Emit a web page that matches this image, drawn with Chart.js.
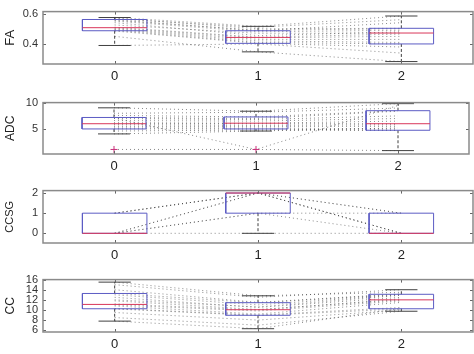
<!DOCTYPE html>
<html><head><meta charset="utf-8">
<script src="https://cdn.jsdelivr.net/npm/chart.js@4.4.1/dist/chart.umd.min.js"></script>
<style>
html,body{margin:0;padding:0;background:#fff;width:474px;height:354px;overflow:hidden;position:relative}
canvas{position:absolute;left:0}
</style></head><body>
<canvas id="c0"></canvas><canvas id="c1"></canvas><canvas id="c2"></canvas><canvas id="c3"></canvas>
<script>
// ---------- data ----------
const groups = [0, 1, 2];
const xTickLabels = ['0', '1', '2'];

// FA
const faTicks = [0.4, 0.6];
const faRange = [0.268, 0.613];
const faMin = [0.390, 0.348, 0.284];
const faQ1  = [0.487, 0.404, 0.400];
const faMed = [0.507, 0.443, 0.472];
const faQ3  = [0.561, 0.487, 0.503];
const faMax = [0.574, 0.516, 0.584];
const faOut = [[], [], []];
const faG0 = [0.575, 0.570, 0.565, 0.560, 0.555, 0.550, 0.540, 0.525, 0.510, 0.505, 0.500, 0.495, 0.490, 0.485, 0.450, 0.390];
const faG1 = [0.516, 0.500, 0.510, 0.487, 0.490, 0.480, 0.455, 0.470, 0.445, 0.440, 0.430, 0.420, 0.410, 0.404, 0.348, 0.400];
const faG2 = [0.584, 0.503, 0.560, 0.540, 0.500, 0.490, 0.480, 0.472, 0.465, 0.450, 0.430, 0.410, 0.400, 0.380, 0.284, 0.340];

// ADC
const adcTicks = [5, 10];
const adcRange = [0.2, 10.05];
const adcMin = [4.05, 4.6, 0.85];
const adcQ1  = [5.0, 5.0, 4.75];
const adcMed = [6.0, 6.1, 6.0];
const adcQ3  = [7.2, 7.3, 8.5];
const adcMax = [9.05, 8.4, 9.85];
const adcOut = [[1.07], [1.07], []];
const adcG0 = [9.05, 8.0, 7.6, 7.2, 7.0, 6.6, 6.2, 6.0, 5.8, 5.5, 5.2, 5.0, 4.6, 4.05, 1.07, 7.1];
const adcG1 = [8.4, 8.2, 7.3, 7.0, 6.8, 6.5, 6.1, 6.0, 5.7, 5.5, 5.2, 5.0, 4.8, 4.6, 1.07, 1.07];
const adcG2 = [9.85, 9.0, 8.5, 8.4, 7.5, 7.0, 6.5, 6.0, 5.8, 5.5, 5.0, 4.75, 4.7, 5.2, 0.85, 9.5];

// CCSG
const ccsgTicks = [0, 1, 2];
const ccsgRange = [-0.48, 2.12];
const ccsgMin = [0, 0, 0];
const ccsgQ1  = [0, 1, 0];
const ccsgMed = [0, 2, 0];
const ccsgQ3  = [1, 2, 1];
const ccsgMax = [1, 2, 1];
const ccsgOut = [[], [], []];
const ccsgG0 = [1, 1, 0, 0, 0, 0, 1, 0];
const ccsgG1 = [2, 2, 2, 1, 1, 0, 2, 2];
const ccsgG2 = [1, 0, 0, 1, 0, 0, 1, 0];

// CC
const ccTicks = [6, 8, 10, 12, 14, 16];
const ccRange = [5.65, 16.0];
const ccMin = [7.8, 6.3, 9.75];
const ccQ1  = [10.24, 8.95, 10.24];
const ccMed = [11.1, 10.05, 12.0];
const ccQ3  = [13.26, 11.44, 13.1];
const ccMax = [15.5, 12.8, 14.0];
const ccOut = [[], [], []];
const ccG0 = [15.5, 15.0, 14.0, 13.3, 13.0, 12.5, 11.8, 11.2, 11.0, 10.8, 10.3, 10.2, 9.5, 8.5, 7.8, 12.0];
const ccG1 = [12.8, 12.5, 11.5, 11.4, 11.0, 10.5, 10.1, 10.0, 9.8, 9.2, 9.0, 8.9, 8.0, 7.0, 6.3, 10.6];
const ccG2 = [13.5, 14.0, 13.2, 13.1, 13.0, 12.5, 12.0, 12.2, 11.8, 11.5, 10.5, 10.2, 10.0, 9.75, 10.3, 12.9];

// ---------- styling / layout ----------
const BOX_HALF = 0.225, CAP_HALF = 0.1125;
const BOX_COLOR = '#5c5cc4', MED_COLOR = '#d9365a', WHISK_COLOR = '#404040';
const OUT_COLOR = '#c8307a', SUBJ_COLOR = 'rgba(60,60,60,0.6)';
const FONT = 'Liberation Sans, Arial, Helvetica, sans-serif';

const panels = [
  {id:'c0', title:'FA',   tsize:13, top:5,   bottom:64,  ticks:faTicks,   range:faRange,   st:[faMin,faQ1,faMed,faQ3,faMax],       out:faOut,   subj:[faG0,faG1,faG2]},
  {id:'c1', title:'ADC',  tsize:12, top:99,  bottom:154, ticks:adcTicks,  range:adcRange,  st:[adcMin,adcQ1,adcMed,adcQ3,adcMax],  out:adcOut,  subj:[adcG0,adcG1,adcG2]},
  {id:'c2', title:'CCSG', tsize:11, top:187, bottom:243, ticks:ccsgTicks, range:ccsgRange, st:[ccsgMin,ccsgQ1,ccsgMed,ccsgQ3,ccsgMax], out:ccsgOut, subj:[ccsgG0,ccsgG1,ccsgG2]},
  {id:'c3', title:'CC',   tsize:12, top:276, bottom:332, ticks:ccTicks,   range:ccRange,   st:[ccMin,ccQ1,ccMed,ccQ3,ccMax],       out:ccOut,   subj:[ccG0,ccG1,ccG2]}
];

const framePlugin = {
  id: 'frame',
  afterDatasetsDraw(chart) {
    const {ctx, chartArea: a, scales} = chart;
    ctx.save();
    ctx.strokeStyle = '#666'; ctx.lineWidth = 1;
    ctx.beginPath();
    scales.y.ticks.forEach(t => {
      const p = Math.round(scales.y.getPixelForValue(t.value)) + 0.5;
      ctx.moveTo(a.left, p); ctx.lineTo(a.left + 3, p);
      ctx.moveTo(a.right, p); ctx.lineTo(a.right - 3, p);
    });
    scales.x.ticks.forEach(t => {
      const p = Math.round(scales.x.getPixelForValue(t.value)) + 0.5;
      ctx.moveTo(p, a.bottom); ctx.lineTo(p, a.bottom - 3);
      ctx.moveTo(p, a.top); ctx.lineTo(p, a.top + 3);
    });
    ctx.stroke();
    ctx.strokeStyle = '#8a8a8a'; ctx.lineWidth = 1.5;
    ctx.strokeRect(a.left, a.top, a.right - a.left, a.bottom - a.top);
    ctx.restore();
  }
};

function seg(points, color, width, dash, order) {
  return {data: points, showLine: true, borderColor: color, borderWidth: width,
          borderDash: dash || [], pointRadius: 0, fill: false, tension: 0, order: order};
}

function buildDatasets(p) {
  const ds = [];
  const [mn, q1, md, q3, mx] = p.st;
  const [g0, g1, g2] = p.subj;
  for (let i = 0; i < g0.length; i++) {
    ds.push(seg([{x:groups[0], y:g0[i]}, {x:groups[1], y:g1[i]}, {x:groups[2], y:g2[i]}], SUBJ_COLOR, 1, [1, 3], 3));
  }
  groups.forEach((g, k) => {
    if (mx[k] > q3[k]) ds.push(seg([{x:g, y:q3[k]}, {x:g, y:mx[k]}], WHISK_COLOR, 1, [3, 2], 2));
    if (mn[k] < q1[k]) ds.push(seg([{x:g, y:q1[k]}, {x:g, y:mn[k]}], WHISK_COLOR, 1, [3, 2], 2));
    if (mx[k] > q3[k]) ds.push(seg([{x:g - CAP_HALF, y:mx[k]}, {x:g + CAP_HALF, y:mx[k]}], WHISK_COLOR, 1, [], 2));
    if (mn[k] < q1[k]) ds.push(seg([{x:g - CAP_HALF, y:mn[k]}, {x:g + CAP_HALF, y:mn[k]}], WHISK_COLOR, 1, [], 2));
    ds.push(seg([{x:g - BOX_HALF, y:q1[k]}, {x:g + BOX_HALF, y:q1[k]}, {x:g + BOX_HALF, y:q3[k]},
                 {x:g - BOX_HALF, y:q3[k]}, {x:g - BOX_HALF, y:q1[k]}], BOX_COLOR, 1, [], 1));
    ds.push(seg([{x:g - BOX_HALF, y:md[k]}, {x:g + BOX_HALF, y:md[k]}], MED_COLOR, 1, [], 0));
    if (p.out[k].length) {
      ds.push({data: p.out[k].map(v => ({x:g, y:v})), showLine: false, pointStyle: 'cross',
               pointRadius: 3.5, pointBorderColor: OUT_COLOR, pointBorderWidth: 1, order: 0});
    }
  });
  return ds;
}

const AXIS_H = 24;
panels.forEach(p => {
  const cv = document.getElementById(p.id);
  const ctop = Math.max(0, p.top - 8);
  const padTop = p.top - ctop;
  const h = padTop + (p.bottom - p.top) + AXIS_H;
  cv.width = 474; cv.height = h;
  cv.style.top = ctop + 'px'; cv.style.width = '474px'; cv.style.height = h + 'px';
  new Chart(cv, {
    type: 'scatter',
    data: {datasets: buildDatasets(p)},
    options: {
      responsive: false, animation: false, devicePixelRatio: 1,
      layout: {padding: {top: padTop, right: 1, left: 0, bottom: 0}},
      plugins: {legend: {display: false}, tooltip: {enabled: false}},
      scales: {
        x: {
          type: 'linear', min: -0.5, max: 2.5, offset: false,
          grid: {display: false, drawTicks: false}, border: {display: false},
          afterBuildTicks: s => { s.ticks = groups.map(v => ({value: v})); },
          afterFit: s => { s.height = AXIS_H; },
          ticks: {autoSkip: false, maxRotation: 0, padding: 5, color: '#222',
                  font: {family: FONT, size: 13},
                  callback: (v) => xTickLabels[groups.indexOf(v)] ?? ''}
        },
        y: {
          type: 'linear', min: p.range[0], max: p.range[1],
          grid: {display: false, drawTicks: false}, border: {display: false},
          afterBuildTicks: s => { s.ticks = p.ticks.map(v => ({value: v})); },
          afterFit: s => { s.width = 43; },
          ticks: {autoSkip: false, padding: 5, color: '#333', font: {family: FONT, size: 11},
                  callback: v => String(v)},
          title: {display: true, text: p.title, color: '#222', padding: {top: 3, bottom: 2},
                  font: {family: FONT, size: p.tsize}}
        }
      }
    },
    plugins: [framePlugin]
  });
});
</script>
</body></html>
